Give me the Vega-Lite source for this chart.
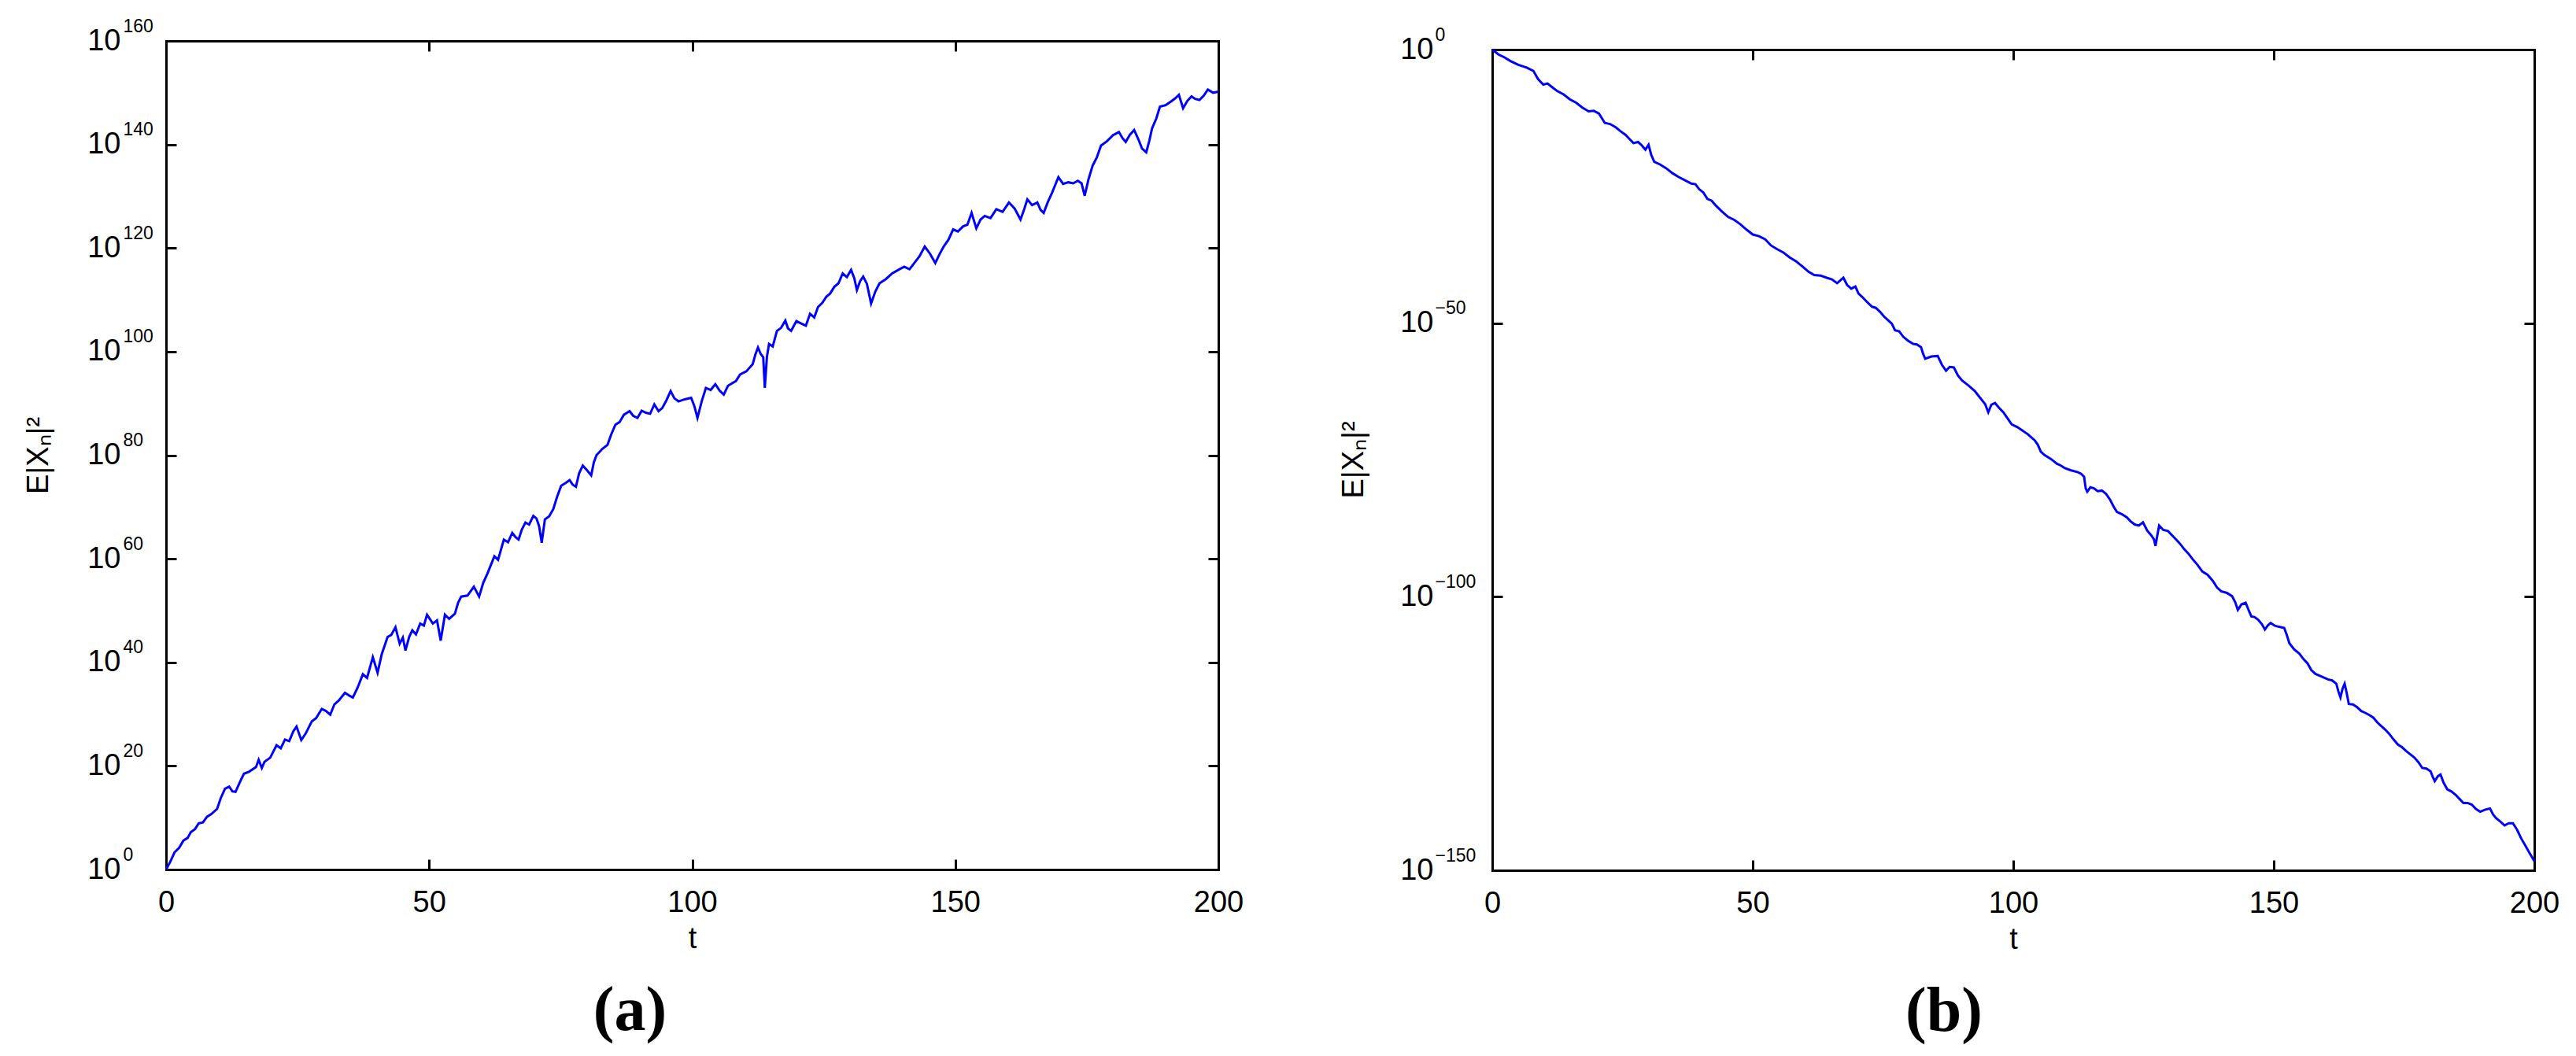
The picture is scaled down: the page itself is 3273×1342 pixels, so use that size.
{
  "$schema": "https://vega.github.io/schema/vega-lite/v6.json",
  "background": "white",
  "padding": {"left": 30, "top": 22, "right": 5, "bottom": 5},
  "config": {
    "view": {"stroke": null},
    "axis": {
      "labelFont": "Liberation Sans",
      "titleFont": "Liberation Sans",
      "labelColor": "black",
      "titleColor": "black",
      "titleFontWeight": "normal",
      "domain": false,
      "domainColor": "black",
      "domainWidth": 3,
      "domainCap": "square",
      "grid": false,
      "labelFlush": false,
      "labelOverlap": false,
      "labelBound": false,
      "tickColor": "black",
      "tickWidth": 3
    },
    "title": {"font": "Liberation Serif", "fontWeight": "bold", "fontSize": 80, "color": "black"}
  },
  "datasets": {
    "growth": [
      {"t": 0, "v": 0}, {"t": 0.8, "v": 1.5}, {"t": 1.6, "v": 3.3}, {"t": 2.5, "v": 4.2}, {"t": 3.3, "v": 5.6},
      {"t": 4.1, "v": 6.1}, {"t": 4.7, "v": 7.2}, {"t": 5.5, "v": 7.8}, {"t": 6.2, "v": 8.9}, {"t": 7.0, "v": 9.1},
      {"t": 7.8, "v": 10.2}, {"t": 8.6, "v": 10.7}, {"t": 9.7, "v": 11.7}, {"t": 10.4, "v": 13.8}, {"t": 11.2, "v": 15.6},
      {"t": 12.0, "v": 16.0}, {"t": 12.6, "v": 15.1}, {"t": 13.2, "v": 15.0}, {"t": 14.0, "v": 16.8}, {"t": 14.8, "v": 18.5},
      {"t": 15.8, "v": 18.9}, {"t": 17.1, "v": 19.8}, {"t": 17.6, "v": 21.2}, {"t": 18.2, "v": 19.6}, {"t": 18.7, "v": 20.8},
      {"t": 19.8, "v": 21.6}, {"t": 21.0, "v": 24.0}, {"t": 21.8, "v": 23.4}, {"t": 22.6, "v": 25.1}, {"t": 23.4, "v": 24.8},
      {"t": 24.2, "v": 26.7}, {"t": 24.8, "v": 27.6}, {"t": 25.7, "v": 25.0}, {"t": 26.5, "v": 26.2}, {"t": 27.7, "v": 28.6},
      {"t": 28.5, "v": 29.2}, {"t": 29.6, "v": 31.0}, {"t": 30.4, "v": 30.6}, {"t": 31.2, "v": 29.9}, {"t": 32.0, "v": 31.9},
      {"t": 32.8, "v": 32.6}, {"t": 34.0, "v": 34.1}, {"t": 34.8, "v": 33.6}, {"t": 35.5, "v": 33.2}, {"t": 36.4, "v": 35.1},
      {"t": 37.4, "v": 37.7}, {"t": 38.2, "v": 37.0}, {"t": 39.3, "v": 41.0}, {"t": 40.2, "v": 38.0}, {"t": 41.0, "v": 41.6},
      {"t": 42.1, "v": 44.9}, {"t": 42.8, "v": 45.3}, {"t": 43.6, "v": 46.8}, {"t": 44.4, "v": 43.6}, {"t": 45.0, "v": 44.8},
      {"t": 45.5, "v": 42.3}, {"t": 46.2, "v": 44.9}, {"t": 46.8, "v": 46.2}, {"t": 47.5, "v": 45.4}, {"t": 48.3, "v": 47.5},
      {"t": 49.0, "v": 47.1}, {"t": 49.6, "v": 49.2}, {"t": 50.7, "v": 47.5}, {"t": 51.5, "v": 48.1}, {"t": 52.2, "v": 44.2},
      {"t": 53.0, "v": 49.2}, {"t": 53.8, "v": 48.4}, {"t": 54.9, "v": 49.4}, {"t": 55.5, "v": 51.5}, {"t": 56.1, "v": 52.7},
      {"t": 57.3, "v": 52.9}, {"t": 58.5, "v": 54.6}, {"t": 59.5, "v": 52.7}, {"t": 60.3, "v": 55.4}, {"t": 61.1, "v": 57.2},
      {"t": 62.4, "v": 60.5}, {"t": 63.1, "v": 59.8}, {"t": 64.2, "v": 63.7}, {"t": 65.0, "v": 63.2}, {"t": 65.8, "v": 65.0},
      {"t": 66.4, "v": 64.2}, {"t": 67.0, "v": 63.7}, {"t": 67.6, "v": 65.6}, {"t": 68.3, "v": 67.0}, {"t": 69.0, "v": 66.6},
      {"t": 69.8, "v": 68.3}, {"t": 70.4, "v": 67.8}, {"t": 70.9, "v": 66.3}, {"t": 71.4, "v": 63.1}, {"t": 72.0, "v": 67.6},
      {"t": 72.8, "v": 68.2}, {"t": 73.6, "v": 69.6}, {"t": 74.3, "v": 71.9}, {"t": 75.1, "v": 74.1}, {"t": 75.9, "v": 74.6},
      {"t": 76.7, "v": 75.2}, {"t": 77.3, "v": 74.3}, {"t": 77.9, "v": 73.9}, {"t": 78.5, "v": 76.5}, {"t": 79.2, "v": 78.0},
      {"t": 80.0, "v": 77.1}, {"t": 80.8, "v": 76.1}, {"t": 81.3, "v": 78.6}, {"t": 81.8, "v": 80.0}, {"t": 82.9, "v": 81.2},
      {"t": 83.9, "v": 82.0}, {"t": 84.6, "v": 84.0}, {"t": 85.4, "v": 85.9}, {"t": 86.2, "v": 86.4}, {"t": 87.0, "v": 87.8},
      {"t": 88.1, "v": 88.5}, {"t": 88.8, "v": 87.6}, {"t": 89.6, "v": 87.2}, {"t": 90.4, "v": 88.6}, {"t": 91.2, "v": 88.2},
      {"t": 92.0, "v": 88.0}, {"t": 92.8, "v": 89.8}, {"t": 93.6, "v": 88.5}, {"t": 94.3, "v": 89.1}, {"t": 95.1, "v": 90.6},
      {"t": 95.9, "v": 92.4}, {"t": 96.6, "v": 91.0}, {"t": 97.4, "v": 90.4}, {"t": 98.6, "v": 90.8}, {"t": 99.8, "v": 91.1},
      {"t": 100.4, "v": 89.5}, {"t": 101.0, "v": 87.2}, {"t": 101.8, "v": 90.4}, {"t": 102.6, "v": 93.0}, {"t": 103.5, "v": 92.6},
      {"t": 104.4, "v": 93.7}, {"t": 105.2, "v": 92.5}, {"t": 106.0, "v": 91.7}, {"t": 106.8, "v": 93.4}, {"t": 107.6, "v": 93.9},
      {"t": 108.3, "v": 94.3}, {"t": 109.1, "v": 95.6}, {"t": 110.3, "v": 96.2}, {"t": 111.5, "v": 97.6}, {"t": 112.0, "v": 99.4},
      {"t": 112.5, "v": 100.8}, {"t": 113.0, "v": 99.6}, {"t": 113.5, "v": 98.9}, {"t": 113.8, "v": 93.0}, {"t": 114.2, "v": 99.0},
      {"t": 114.6, "v": 101.5}, {"t": 115.3, "v": 101.0}, {"t": 116.1, "v": 104.0}, {"t": 116.9, "v": 104.6}, {"t": 117.7, "v": 106.0},
      {"t": 118.2, "v": 104.5}, {"t": 118.8, "v": 104.0}, {"t": 119.8, "v": 105.9}, {"t": 120.8, "v": 105.4}, {"t": 121.6, "v": 105.0},
      {"t": 122.4, "v": 107.3}, {"t": 123.2, "v": 106.6}, {"t": 123.9, "v": 108.6}, {"t": 124.7, "v": 109.4}, {"t": 125.5, "v": 110.6},
      {"t": 126.2, "v": 111.2}, {"t": 127.0, "v": 112.5}, {"t": 127.8, "v": 113.2}, {"t": 128.6, "v": 115.1}, {"t": 129.4, "v": 114.4},
      {"t": 130.2, "v": 115.8}, {"t": 130.8, "v": 114.2}, {"t": 131.3, "v": 111.9}, {"t": 131.9, "v": 113.6}, {"t": 132.5, "v": 114.5},
      {"t": 133.2, "v": 113.1}, {"t": 134.0, "v": 109.3}, {"t": 134.8, "v": 111.6}, {"t": 135.6, "v": 113.2}, {"t": 136.8, "v": 114.0},
      {"t": 138.0, "v": 115.1}, {"t": 139.2, "v": 115.8}, {"t": 140.3, "v": 116.4}, {"t": 141.3, "v": 115.9}, {"t": 142.2, "v": 117.1},
      {"t": 143.2, "v": 118.4}, {"t": 144.2, "v": 120.3}, {"t": 145.2, "v": 118.9}, {"t": 146.2, "v": 117.1}, {"t": 147.0, "v": 118.8},
      {"t": 147.8, "v": 120.3}, {"t": 148.7, "v": 121.6}, {"t": 149.6, "v": 123.6}, {"t": 150.5, "v": 123.2}, {"t": 151.5, "v": 124.2},
      {"t": 152.3, "v": 124.5}, {"t": 153.1, "v": 126.8}, {"t": 154.0, "v": 123.8}, {"t": 154.8, "v": 125.5}, {"t": 155.6, "v": 126.2},
      {"t": 156.7, "v": 125.8}, {"t": 157.8, "v": 127.5}, {"t": 159.0, "v": 127.0}, {"t": 160.2, "v": 128.8}, {"t": 161.3, "v": 127.6},
      {"t": 162.4, "v": 125.5}, {"t": 163.0, "v": 127.2}, {"t": 163.7, "v": 129.4}, {"t": 164.6, "v": 128.3}, {"t": 165.6, "v": 128.8},
      {"t": 166.2, "v": 127.4}, {"t": 166.8, "v": 126.8}, {"t": 167.6, "v": 128.9}, {"t": 168.4, "v": 130.7}, {"t": 169.0, "v": 132.2},
      {"t": 169.6, "v": 133.7}, {"t": 170.5, "v": 132.4}, {"t": 171.5, "v": 132.7}, {"t": 172.4, "v": 132.5}, {"t": 173.3, "v": 133.0},
      {"t": 174.0, "v": 132.5}, {"t": 174.6, "v": 130.1}, {"t": 175.3, "v": 133.2}, {"t": 176.1, "v": 135.9}, {"t": 176.9, "v": 137.5},
      {"t": 177.7, "v": 139.8}, {"t": 178.8, "v": 140.6}, {"t": 180.0, "v": 141.8}, {"t": 181.1, "v": 142.4}, {"t": 181.8, "v": 141.2},
      {"t": 182.4, "v": 140.5}, {"t": 183.2, "v": 141.9}, {"t": 184.0, "v": 142.8}, {"t": 184.8, "v": 141.0}, {"t": 185.5, "v": 139.2},
      {"t": 186.3, "v": 138.5}, {"t": 186.9, "v": 140.8}, {"t": 187.4, "v": 143.1}, {"t": 188.2, "v": 145.0}, {"t": 188.9, "v": 147.3},
      {"t": 190.0, "v": 147.6}, {"t": 191.0, "v": 148.3}, {"t": 191.8, "v": 148.9}, {"t": 192.5, "v": 149.6}, {"t": 193.3, "v": 147.0},
      {"t": 194.1, "v": 148.4}, {"t": 194.9, "v": 149.3}, {"t": 195.6, "v": 148.8}, {"t": 196.4, "v": 148.6}, {"t": 197.2, "v": 149.4},
      {"t": 198.0, "v": 150.6}, {"t": 199.0, "v": 150.0}, {"t": 200.0, "v": 150.2}
    ],
    "decay": [
      {"t": 0, "v": 0}, {"t": 1.2, "v": -0.9}, {"t": 2.3, "v": -1.4}, {"t": 3.5, "v": -2.1}, {"t": 5.0, "v": -2.8},
      {"t": 6.6, "v": -3.3}, {"t": 7.9, "v": -3.9}, {"t": 8.8, "v": -5.4}, {"t": 9.8, "v": -6.4}, {"t": 10.6, "v": -6.2},
      {"t": 11.4, "v": -6.8}, {"t": 12.5, "v": -7.6}, {"t": 13.7, "v": -8.2}, {"t": 14.9, "v": -9.1}, {"t": 16.1, "v": -9.7},
      {"t": 17.3, "v": -10.6}, {"t": 18.5, "v": -11.3}, {"t": 19.5, "v": -11.2}, {"t": 20.5, "v": -11.7}, {"t": 21.6, "v": -13.4},
      {"t": 22.6, "v": -13.6}, {"t": 23.7, "v": -14.2}, {"t": 24.6, "v": -14.9}, {"t": 25.6, "v": -15.6}, {"t": 26.4, "v": -16.4},
      {"t": 27.1, "v": -17.1}, {"t": 28.0, "v": -16.9}, {"t": 28.7, "v": -17.5}, {"t": 29.4, "v": -18.3}, {"t": 30.0, "v": -17.4},
      {"t": 30.5, "v": -19.2}, {"t": 31.1, "v": -20.5}, {"t": 32.2, "v": -21.0}, {"t": 33.4, "v": -21.7}, {"t": 34.6, "v": -22.6},
      {"t": 35.8, "v": -23.3}, {"t": 37.0, "v": -23.9}, {"t": 38.2, "v": -24.5}, {"t": 39.0, "v": -24.6}, {"t": 39.7, "v": -25.5},
      {"t": 40.5, "v": -26.1}, {"t": 41.3, "v": -27.3}, {"t": 42.1, "v": -27.6}, {"t": 42.9, "v": -28.5}, {"t": 44.1, "v": -29.6},
      {"t": 45.3, "v": -30.6}, {"t": 46.4, "v": -31.1}, {"t": 47.6, "v": -31.9}, {"t": 48.8, "v": -32.9}, {"t": 50.0, "v": -33.8},
      {"t": 51.2, "v": -34.1}, {"t": 52.4, "v": -34.7}, {"t": 53.5, "v": -35.8}, {"t": 54.7, "v": -36.5}, {"t": 55.9, "v": -37.1},
      {"t": 57.1, "v": -38.0}, {"t": 58.3, "v": -38.7}, {"t": 59.5, "v": -39.6}, {"t": 60.7, "v": -40.6}, {"t": 61.8, "v": -41.2},
      {"t": 63.0, "v": -41.3}, {"t": 64.2, "v": -41.7}, {"t": 65.2, "v": -42.0}, {"t": 66.2, "v": -42.7}, {"t": 66.8, "v": -42.2},
      {"t": 67.4, "v": -41.7}, {"t": 68.1, "v": -43.0}, {"t": 68.9, "v": -43.7}, {"t": 69.7, "v": -43.3}, {"t": 70.3, "v": -44.6},
      {"t": 71.0, "v": -45.2}, {"t": 71.9, "v": -46.1}, {"t": 72.9, "v": -47.0}, {"t": 73.6, "v": -47.2}, {"t": 74.4, "v": -47.9},
      {"t": 75.2, "v": -48.8}, {"t": 76.0, "v": -49.5}, {"t": 76.7, "v": -50.1}, {"t": 77.3, "v": -51.3}, {"t": 78.1, "v": -51.5},
      {"t": 78.9, "v": -52.5}, {"t": 79.8, "v": -53.2}, {"t": 80.8, "v": -53.8}, {"t": 81.5, "v": -53.9}, {"t": 82.3, "v": -54.4},
      {"t": 82.7, "v": -55.6}, {"t": 83.1, "v": -56.5}, {"t": 84.3, "v": -56.1}, {"t": 85.5, "v": -56.0}, {"t": 86.3, "v": -57.6},
      {"t": 87.1, "v": -58.7}, {"t": 87.8, "v": -58.0}, {"t": 88.6, "v": -58.1}, {"t": 89.4, "v": -59.6}, {"t": 90.2, "v": -60.5},
      {"t": 91.4, "v": -61.4}, {"t": 92.6, "v": -62.4}, {"t": 93.6, "v": -63.6}, {"t": 94.6, "v": -64.8}, {"t": 95.2, "v": -66.3},
      {"t": 95.8, "v": -64.9}, {"t": 96.5, "v": -64.6}, {"t": 97.3, "v": -65.5}, {"t": 98.1, "v": -66.3}, {"t": 98.9, "v": -67.4},
      {"t": 99.7, "v": -68.5}, {"t": 100.8, "v": -69.0}, {"t": 102.0, "v": -69.8}, {"t": 102.8, "v": -70.3}, {"t": 103.6, "v": -71.0},
      {"t": 104.1, "v": -71.4}, {"t": 104.7, "v": -72.2}, {"t": 105.3, "v": -73.5}, {"t": 106.0, "v": -74.1}, {"t": 107.2, "v": -74.8},
      {"t": 108.4, "v": -75.7}, {"t": 109.1, "v": -76.0}, {"t": 109.9, "v": -76.5}, {"t": 111.1, "v": -76.9}, {"t": 112.3, "v": -77.2},
      {"t": 113.0, "v": -77.5}, {"t": 113.6, "v": -78.1}, {"t": 113.9, "v": -80.2}, {"t": 114.2, "v": -80.8}, {"t": 114.8, "v": -80.0},
      {"t": 115.5, "v": -80.2}, {"t": 116.2, "v": -80.7}, {"t": 117.0, "v": -80.6}, {"t": 117.8, "v": -81.2}, {"t": 118.6, "v": -82.3},
      {"t": 119.3, "v": -83.6}, {"t": 119.9, "v": -84.5}, {"t": 120.8, "v": -84.9}, {"t": 121.8, "v": -85.5}, {"t": 122.5, "v": -86.2},
      {"t": 123.3, "v": -86.8}, {"t": 124.1, "v": -87.0}, {"t": 124.9, "v": -86.4}, {"t": 125.7, "v": -87.9}, {"t": 126.5, "v": -88.8},
      {"t": 127.0, "v": -89.5}, {"t": 127.3, "v": -90.7}, {"t": 127.7, "v": -88.5}, {"t": 128.0, "v": -87.0}, {"t": 128.8, "v": -87.8},
      {"t": 129.7, "v": -88.0}, {"t": 130.4, "v": -88.7}, {"t": 131.2, "v": -89.5}, {"t": 132.0, "v": -90.3}, {"t": 132.8, "v": -91.3},
      {"t": 133.6, "v": -92.1}, {"t": 134.4, "v": -93.1}, {"t": 135.3, "v": -94.1}, {"t": 136.3, "v": -95.4}, {"t": 137.3, "v": -96.0},
      {"t": 138.3, "v": -97.1}, {"t": 139.1, "v": -98.3}, {"t": 139.9, "v": -99.0}, {"t": 141.0, "v": -99.3}, {"t": 142.0, "v": -99.9},
      {"t": 142.6, "v": -101.0}, {"t": 143.1, "v": -102.4}, {"t": 143.8, "v": -101.4}, {"t": 144.6, "v": -101.1}, {"t": 145.2, "v": -102.5},
      {"t": 145.7, "v": -103.6}, {"t": 146.3, "v": -103.7}, {"t": 147.0, "v": -104.2}, {"t": 147.7, "v": -105.0}, {"t": 148.3, "v": -106.0},
      {"t": 148.9, "v": -105.2}, {"t": 149.4, "v": -104.8}, {"t": 150.2, "v": -105.3}, {"t": 151.0, "v": -105.5}, {"t": 152.0, "v": -105.7},
      {"t": 152.5, "v": -107.0}, {"t": 153.0, "v": -108.5}, {"t": 153.9, "v": -109.6}, {"t": 154.9, "v": -110.4}, {"t": 155.7, "v": -111.4},
      {"t": 156.5, "v": -112.2}, {"t": 157.2, "v": -113.4}, {"t": 158.0, "v": -114.1}, {"t": 159.2, "v": -114.6}, {"t": 160.4, "v": -115.1},
      {"t": 161.2, "v": -115.3}, {"t": 162.0, "v": -115.9}, {"t": 162.4, "v": -117.3}, {"t": 162.8, "v": -118.4}, {"t": 163.2, "v": -116.8},
      {"t": 163.6, "v": -115.9}, {"t": 164.0, "v": -117.6}, {"t": 164.4, "v": -119.6}, {"t": 165.2, "v": -119.7}, {"t": 166.0, "v": -120.2},
      {"t": 166.8, "v": -120.9}, {"t": 167.5, "v": -121.2}, {"t": 168.3, "v": -121.6}, {"t": 169.1, "v": -122.1}, {"t": 169.9, "v": -123.0},
      {"t": 170.7, "v": -123.7}, {"t": 171.4, "v": -124.3}, {"t": 172.2, "v": -125.1}, {"t": 173.0, "v": -126.1}, {"t": 173.8, "v": -127.0},
      {"t": 174.6, "v": -127.5}, {"t": 175.4, "v": -128.2}, {"t": 176.2, "v": -128.8}, {"t": 177.0, "v": -129.4}, {"t": 177.8, "v": -130.3},
      {"t": 178.5, "v": -131.3}, {"t": 179.3, "v": -131.4}, {"t": 180.1, "v": -131.9}, {"t": 180.5, "v": -132.9}, {"t": 180.9, "v": -133.7},
      {"t": 181.5, "v": -132.8}, {"t": 182.0, "v": -132.5}, {"t": 182.6, "v": -134.0}, {"t": 183.3, "v": -135.2}, {"t": 184.1, "v": -135.6},
      {"t": 184.9, "v": -136.2}, {"t": 185.7, "v": -137.0}, {"t": 186.4, "v": -137.7}, {"t": 187.2, "v": -137.7}, {"t": 188.0, "v": -138.0},
      {"t": 188.8, "v": -138.8}, {"t": 189.6, "v": -139.3}, {"t": 190.6, "v": -138.9}, {"t": 191.5, "v": -138.7}, {"t": 192.1, "v": -139.8},
      {"t": 192.7, "v": -140.5}, {"t": 193.5, "v": -141.1}, {"t": 194.3, "v": -141.8}, {"t": 195.1, "v": -141.4}, {"t": 195.9, "v": -141.4},
      {"t": 196.7, "v": -142.6}, {"t": 197.5, "v": -144.2}, {"t": 198.3, "v": -145.5}, {"t": 199.0, "v": -146.7}, {"t": 200.0, "v": -148.3}
    ]
  },
  "columns": 2,
  "align": "none",
  "spacing": 121,
  "concat": [
    {
      "width": 1337,
      "height": 1053,
      "data": {"name": "growth"},
      "title": {"text": "(a)", "orient": "bottom", "anchor": "middle", "dx": -79, "offset": 34, "baseline": "top"},
      "layer": [
        {
          "mark": {"type": "line", "color": "#0000ff", "strokeWidth": 3},
          "encoding": {
            "x": {
              "field": "t", "type": "quantitative",
              "scale": {"domain": [0, 200], "nice": false},
              "axis": {"orient": "bottom", "values": [0, 50, 100, 150, 200], "ticks": false, "labelFontSize": 38, "labelPadding": 23, "title": "t", "titleFontSize": 38, "titleY": 88, "titleBaseline": "middle"}
            },
            "y": {
              "field": "v", "type": "quantitative",
              "scale": {"domain": [0, 160], "nice": false, "zero": false},
              "axis": {"orient": "left", "values": [0, 20, 40, 60, 80, 100, 120, 140, 160], "ticks": false, "labelExpr": "'10'", "labelAlign": "right", "labelBaseline": "middle", "labelFontSize": 38, "labelPadding": 58, "title": "E|Xₙ|²", "titleFontSize": 38, "titleAngle": 270, "titleX": -162, "titleBaseline": "middle"}
            }
          }
        },
        {
          "mark": {"type": "line", "opacity": 0},
          "encoding": {
            "x": {"field": "t", "type": "quantitative", "axis": {"orient": "top", "values": [0, 50, 100, 150, 200], "labels": false, "domain": true, "tickSize": -13, "title": null}},
            "y": {"field": "v", "type": "quantitative", "axis": {"orient": "left", "values": [0, 20, 40, 60, 80, 100, 120, 140, 160], "ticks": false, "format": "d", "labelAlign": "left", "labelBaseline": "middle", "labelFontSize": 23, "labelPadding": 55, "labelOffset": -19, "title": null}}
          }
        },
        {
          "mark": {"type": "line", "opacity": 0},
          "encoding": {
            "x": {"field": "t", "type": "quantitative", "axis": {"orient": "bottom", "values": [0, 50, 100, 150, 200], "labels": false, "domain": true, "tickSize": -13, "title": null}},
            "y": {"field": "v", "type": "quantitative", "axis": {"orient": "right", "values": [0, 20, 40, 60, 80, 100, 120, 140, 160], "labels": false, "domain": true, "tickSize": -13, "title": null}}
          }
        },
        {
          "mark": {"type": "line", "opacity": 0},
          "encoding": {
            "x": {"field": "t", "type": "quantitative", "axis": null},
            "y": {"field": "v", "type": "quantitative", "axis": {"orient": "left", "values": [0, 20, 40, 60, 80, 100, 120, 140, 160], "labels": false, "domain": true, "tickSize": -13, "title": null}}
          }
        }
      ],
      "resolve": {"axis": {"x": "independent", "y": "independent"}}
    },
    {
      "width": 1324,
      "height": 1054,
      "data": {"name": "decay"},
      "title": {"text": "(b)", "orient": "bottom", "anchor": "middle", "dx": -88, "offset": 34, "baseline": "top"},
      "layer": [
        {
          "mark": {"type": "line", "color": "#0000ff", "strokeWidth": 3},
          "encoding": {
            "x": {
              "field": "t", "type": "quantitative",
              "scale": {"domain": [0, 200], "nice": false},
              "axis": {"orient": "bottom", "values": [0, 50, 100, 150, 200], "ticks": false, "labelFontSize": 38, "labelPadding": 23, "title": "t", "titleFontSize": 38, "titleY": 88, "titleBaseline": "middle"}
            },
            "y": {
              "field": "v", "type": "quantitative",
              "scale": {"domain": [-150, 0], "nice": false, "zero": false, "rangeMax": 11},
              "axis": {"orient": "left", "values": [-150, -100, -50, 0], "ticks": false, "labelExpr": "'10'", "labelAlign": "right", "labelBaseline": "middle", "labelFontSize": 38, "labelPadding": 75, "title": "E|Xₙ|²", "titleFontSize": 38, "titleAngle": 270, "titleX": -176, "titleY": 532, "titleBaseline": "middle"}
            }
          }
        },
        {
          "mark": {"type": "line", "opacity": 0},
          "encoding": {
            "x": {"field": "t", "type": "quantitative", "axis": {"orient": "top", "offset": -11, "values": [0, 50, 100, 150, 200], "labels": false, "domain": true, "tickSize": -13, "title": null}},
            "y": {"field": "v", "type": "quantitative", "axis": {"orient": "left", "values": [-150, -100, -50, 0], "ticks": false, "format": "d", "labelAlign": "left", "labelBaseline": "middle", "labelFontSize": 23, "labelPadding": 73, "labelOffset": -19, "title": null}}
          }
        },
        {
          "mark": {"type": "line", "opacity": 0},
          "encoding": {
            "x": {"field": "t", "type": "quantitative", "axis": {"orient": "bottom", "values": [0, 50, 100, 150, 200], "labels": false, "domain": true, "tickSize": -13, "title": null}},
            "y": {"field": "v", "type": "quantitative", "axis": {"orient": "right", "values": [-150, -100, -50, 0], "labels": false, "domain": true, "tickSize": -13, "title": null}}
          }
        },
        {
          "mark": {"type": "line", "opacity": 0},
          "encoding": {
            "x": {"field": "t", "type": "quantitative", "axis": null},
            "y": {"field": "v", "type": "quantitative", "axis": {"orient": "left", "values": [-150, -100, -50, 0], "labels": false, "domain": true, "tickSize": -13, "title": null}}
          }
        }
      ],
      "resolve": {"axis": {"x": "independent", "y": "independent"}}
    }
  ]
}
